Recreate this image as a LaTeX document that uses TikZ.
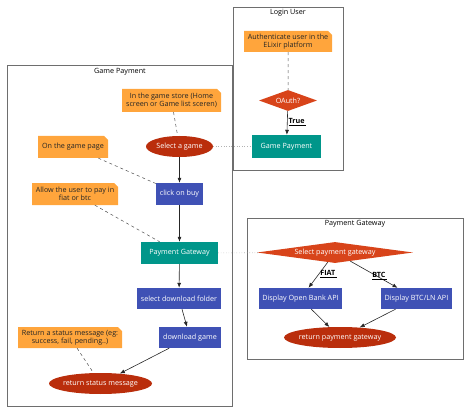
\documentclass[tikz,border=0pt]{standalone}
\usepackage{fontspec}
\setmainfont{Open Sans}
\usetikzlibrary{shapes.geometric,shapes.misc,arrows.meta}

\definecolor{noteorange}{HTML}{FFA53C}
\definecolor{teal}{HTML}{00968A}
\definecolor{indigo}{HTML}{3F51B5}
\definecolor{darkred}{HTML}{BA2E0C}
\definecolor{diamondred}{HTML}{D8441A}
\definecolor{framegray}{HTML}{6E6E6E}

\begin{document}
\begin{tikzpicture}[x=1pt, y=-1pt, font=\fontsize{7.2}{8.4}\selectfont,
    arrow/.style={draw=black!85, line width=0.6pt, -{Latex[length=5pt,width=4pt]}},
    notelink/.style={draw=black!70, line width=0.5pt, dashed},
    grouplink/.style={draw=black!30, line width=0.6pt, dotted},
    guard/.style={font=\fontsize{7.2}{8.4}\selectfont\bfseries, inner sep=1pt}]
    \useasboundingbox (0,0) rectangle (474,417);

    % containers
    \begin{scope}[every node/.style={rectangle, draw=framegray, line width=0.8pt, inner sep=0pt}]
      \node[minimum width=110pt, minimum height=163pt] (LU) at (288, 88.5) {};
      \node[minimum width=225pt, minimum height=341pt] (GP) at (119.5, 235.5) {};
      \node[minimum width=216pt, minimum height=141pt] (PG) at (355, 288.5) {};
    \end{scope}
    \node (LUtitle) at (288, 13) {Login User};
    \node (GPtitle) at (120, 72) {Game Payment};
    \node (PGtitle) at (355, 224) {Payment Gateway};

    % notes
    \begin{scope}[every node/.style={chamfered rectangle, chamfered rectangle corners=north east,
        chamfered rectangle xsep=2pt, chamfered rectangle ysep=2pt,
        fill=noteorange, text=black!85, align=center, inner sep=0pt}]
      \node[minimum width=88pt, minimum height=21pt] (N0) at (288, 41.5) {Authenticate user in the\\ELixir platform};
      \node[minimum width=99pt, minimum height=23pt] (N1) at (171.5, 100.5) {In the game store (Home\\screen or Game list sceren)};
      \node[minimum width=70pt, minimum height=22pt] (N2) at (73, 147) {On the game page};
      \node[minimum width=86pt, minimum height=22pt] (N3) at (75, 194) {Allow the user to pay in\\fiat or btc};
      \node[minimum width=104pt, minimum height=21pt] (N4) at (70, 337.5) {Return a status message (eg:\\success, fail, pending..)};
    \end{scope}

    % steps
    \begin{scope}[every node/.style={rectangle, text=white, inner sep=0pt, minimum height=21pt}]
      \node[fill=teal, minimum width=69pt, minimum height=23pt] (GPstep) at (286.5, 146.5) {Game Payment};
      \node[fill=indigo, minimum width=47pt, minimum height=22pt] (buy) at (179.5, 194) {click on buy};
      \node[fill=teal, minimum width=77pt, minimum height=22pt] (PGstep) at (179.5, 253) {Payment Gateway};
      \node[fill=indigo, minimum width=84pt] (folder) at (179, 298.5) {select download folder};
      \node[fill=indigo, minimum width=62pt] (download) at (190, 337.5) {download game};
      \node[fill=indigo, minimum width=83pt] (bank) at (300.5, 298.5) {Display Open Bank API};
      \node[fill=indigo, minimum width=71pt] (btc) at (416.5, 298.5) {Display BTC/LN API};
    \end{scope}

    % start / end
    \begin{scope}[every node/.style={ellipse, fill=darkred, text=white, inner xsep=-14pt, inner ysep=0pt, minimum height=21pt}]
      \node[minimum width=67pt] (select) at (179.5, 146.5) {Select a game};
      \node[minimum width=103pt] (status) at (100.5, 383.5) {return status message};
      \node[minimum width=112pt] (payret) at (340, 337.5) {return payment gateway};
    \end{scope}

    % decisions
    \begin{scope}[every node/.style={diamond, fill=diamondred, text=white, inner sep=0pt, minimum height=21pt}]
      \node[aspect=2.8, minimum width=58pt] (oauth) at (288, 100.5) {OAuth?};
      \node[aspect=7.4, minimum width=156pt] (choose) at (335, 252.5) {Select payment gateway};
    \end{scope}

    \draw[notelink] (N0) -- (oauth);
    \draw[notelink] (N1) -- (select);
    \draw[notelink] (N2) -- (buy);
    \draw[notelink] (N3) -- (PGstep);
    \draw[notelink] (N4) -- (status);

    \draw[grouplink] (select) -- (GPstep);
    \draw[grouplink] (PGstep) -- (choose);

    \draw[arrow] (oauth) -- node[guard, right, pos=0.45] {\underline{True\,}} (GPstep);
    \draw[arrow] (select) -- (buy);
    \draw[arrow] (buy) -- (PGstep);
    \draw[arrow] (PGstep) -- (folder);
    \draw[arrow] (folder) -- (download);
    \draw[arrow] (download) -- (status);
    \draw[arrow] (choose) -- node[guard, right, pos=0.45] {\underline{FIAT\,}} (bank);
    \draw[arrow] (choose) -- node[guard, pos=0.45, xshift=8pt, yshift=-3pt] {\underline{BTC\,}} (btc);
    \draw[arrow] (bank) -- (payret);
    \draw[arrow] (btc) -- (payret);

  \end{tikzpicture}
\end{document}
